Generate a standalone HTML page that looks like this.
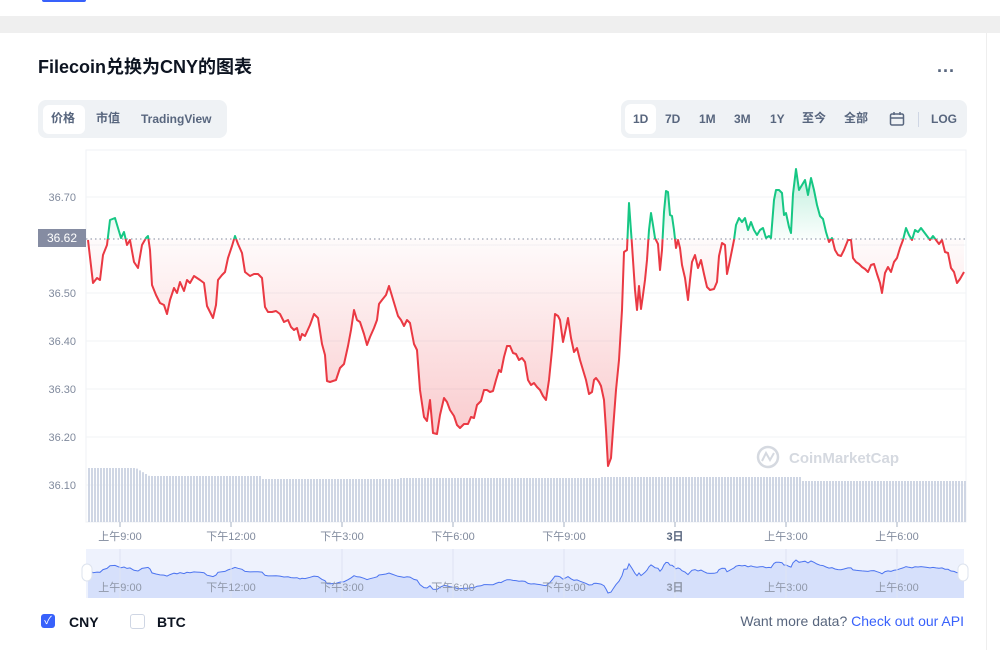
<!DOCTYPE html>
<html><head><meta charset="utf-8"><style>
body{margin:0;width:1000px;height:650px;background:#fff;font-family:"Liberation Sans","Noto Sans CJK SC",sans-serif;position:relative;overflow:hidden}
.a{position:absolute}
.tab{position:absolute;font-size:12px;line-height:14px;font-weight:bold;color:#58667e}
</style></head><body>
<div class="a" style="left:42px;top:0;width:44px;height:2px;background:#3861fb;border-radius:0 0 3px 3px"></div>
<div class="a" style="left:0;top:16px;width:1000px;height:17px;background:#efefef"></div>
<div class="a" style="left:986px;top:33px;width:1px;height:617px;background:#eee"></div>
<div class="a" style="left:38px;top:53px;font-size:18px;font-weight:bold;color:#0d1421">Filecoin兑换为CNY的图表</div>
<div class="a" style="left:937px;top:56px;font-size:18px;font-weight:bold;color:#58667e;letter-spacing:1px">...</div>
<div class="a" style="left:38px;top:100px;width:189px;height:38px;background:#eff2f5;border-radius:8px"></div>
<div class="a" style="left:43px;top:105px;width:42px;height:29px;background:#fff;border-radius:6px"></div>
<div class="tab" style="left:51px;top:111px">价格</div>
<div class="tab" style="left:96px;top:111px">市值</div>
<div class="tab" style="left:141px;top:112px">TradingView</div>
<div class="a" style="left:621px;top:100px;width:346px;height:38px;background:#eff2f5;border-radius:8px"></div>
<div class="a" style="left:625px;top:104px;width:31px;height:30px;background:#fff;border-radius:6px"></div>
<div class="tab" style="left:633px;top:112px">1D</div>
<div class="tab" style="left:665px;top:112px">7D</div>
<div class="tab" style="left:699px;top:112px">1M</div>
<div class="tab" style="left:734px;top:112px">3M</div>
<div class="tab" style="left:770px;top:112px">1Y</div>
<div class="tab" style="left:802px;top:111px">至今</div>
<div class="tab" style="left:844px;top:111px">全部</div>
<svg class="a" style="left:889px;top:111px" width="16" height="16"><rect x="1.5" y="3" width="13" height="11" rx="1.5" fill="none" stroke="#58667e" stroke-width="1.5"/><line x1="1.5" y1="7" x2="14.5" y2="7" stroke="#58667e" stroke-width="1.5"/><line x1="5" y1="1" x2="5" y2="4" stroke="#58667e" stroke-width="1.5"/><line x1="11" y1="1" x2="11" y2="4" stroke="#58667e" stroke-width="1.5"/></svg>
<div class="a" style="left:918px;top:112px;width:1px;height:15px;background:#cfd6e4"></div>
<div class="tab" style="left:931px;top:112px">LOG</div>

<svg class="a" style="left:0;top:0" width="1000" height="650" id="ch">
<defs>
<linearGradient id="gg" x1="0" y1="165" x2="0" y2="239" gradientUnits="userSpaceOnUse"><stop offset="0" stop-color="#16c784" stop-opacity="0.3"/><stop offset="1" stop-color="#16c784" stop-opacity="0.02"/></linearGradient>
<linearGradient id="rg" x1="0" y1="239" x2="0" y2="466" gradientUnits="userSpaceOnUse"><stop offset="0" stop-color="#ea3943" stop-opacity="0.02"/><stop offset="1" stop-color="#ea3943" stop-opacity="0.3"/></linearGradient>
<clipPath id="up"><rect x="0" y="0" width="1000" height="239"/></clipPath>
<clipPath id="dn"><rect x="0" y="239" width="1000" height="400"/></clipPath>
</defs>
<rect x="86" y="150" width="880" height="372" fill="none" stroke="#eff2f5"/>
<g stroke="#f1f3f6" stroke-width="1">
<line x1="86" x2="966" y1="197" y2="197"/><line x1="86" x2="966" y1="245" y2="245"/><line x1="86" x2="966" y1="293" y2="293"/><line x1="86" x2="966" y1="341" y2="341"/><line x1="86" x2="966" y1="389" y2="389"/><line x1="86" x2="966" y1="437" y2="437"/><line x1="86" x2="966" y1="485" y2="485"/>
</g>
<g id="bars" fill="#cfd6e4"></g>
<g font-size="11" fill="#808a9d" text-anchor="end">
<text x="76" y="201">36.70</text><text x="76" y="297">36.50</text><text x="76" y="345">36.40</text><text x="76" y="393">36.30</text><text x="76" y="441">36.20</text><text x="76" y="489">36.10</text>
</g>
<text x="789" y="463" font-size="15" font-weight="bold" fill="#d5d9e0">CoinMarketCap</text>
<circle cx="768" cy="457" r="10" fill="none" stroke="#d5d9e0" stroke-width="2.5"/>
<path d="M762,461 L766,453 L770,460 L774,453" fill="none" stroke="#d5d9e0" stroke-width="2"/>
<path id="fu" clip-path="url(#up)" fill="url(#gg)"/>
<path id="fd" clip-path="url(#dn)" fill="url(#rg)"/>
<polyline id="lu" clip-path="url(#up)" fill="none" stroke="#16c784" stroke-width="2" stroke-linejoin="round"/>
<polyline id="ld" clip-path="url(#dn)" fill="none" stroke="#ea3943" stroke-width="2" stroke-linejoin="round"/>
<line x1="86" x2="966" y1="239" y2="239" stroke="#808a9d" stroke-dasharray="1.5,3"/>
<rect x="38" y="229" width="48" height="18" fill="#858ca2"/>
<text x="62" y="242" font-size="12" fill="#fff" text-anchor="middle">36.62</text>
<g stroke="#a6b0c3"><line x1="120" x2="120" y1="522" y2="527"/><line x1="231" x2="231" y1="522" y2="527"/><line x1="342" x2="342" y1="522" y2="527"/><line x1="453" x2="453" y1="522" y2="527"/><line x1="564" x2="564" y1="522" y2="527"/><line x1="675" x2="675" y1="522" y2="527"/><line x1="786" x2="786" y1="522" y2="527"/><line x1="897" x2="897" y1="522" y2="527"/></g>
<g font-size="11" fill="#808a9d" text-anchor="middle">
<text x="120" y="540">上午9:00</text><text x="231" y="540">下午12:00</text><text x="342" y="540">下午3:00</text><text x="453" y="540">下午6:00</text><text x="564" y="540">下午9:00</text><text x="675" y="540" font-weight="bold" fill="#58667e">3日</text><text x="786" y="540">上午3:00</text><text x="897" y="540">上午6:00</text>
</g>
<rect x="86" y="549" width="878" height="49" fill="#eef2fd"/>
<path id="nf" fill="#d6e0fb"/>
<polyline id="nl" fill="none" stroke="#4c74f0" stroke-width="1"/>
<g stroke="#dde3f3"><line x1="120" x2="120" y1="549" y2="598"/><line x1="231" x2="231" y1="549" y2="598"/><line x1="342" x2="342" y1="549" y2="598"/><line x1="453" x2="453" y1="549" y2="598"/><line x1="564" x2="564" y1="549" y2="598"/><line x1="675" x2="675" y1="549" y2="598"/><line x1="786" x2="786" y1="549" y2="598"/><line x1="897" x2="897" y1="549" y2="598"/></g>
<g font-size="11" fill="#8f97a8" text-anchor="middle">
<text x="120" y="591">上午9:00</text><text x="231" y="591">下午12:00</text><text x="342" y="591">下午3:00</text><text x="453" y="591">下午6:00</text><text x="564" y="591">下午9:00</text><text x="675" y="591" font-weight="bold">3日</text><text x="786" y="591">上午3:00</text><text x="897" y="591">上午6:00</text>
</g>
<rect x="82" y="564" width="10" height="17" rx="5" fill="#fff" stroke="#dde3ee"/>
<rect x="958" y="564" width="10" height="17" rx="5" fill="#fff" stroke="#dde3ee"/>
</svg>

<div class="a" style="left:41px;top:614px;width:14px;height:14px;background:#3861fb;border-radius:3px;color:#fff;font-size:11px;line-height:14px;text-align:center">✓</div>
<div class="a" style="left:69px;top:614px;font-size:14px;font-weight:bold;color:#0d1421">CNY</div>
<div class="a" style="left:130px;top:614px;width:13px;height:13px;border:1px solid #cfd6e4;border-radius:3px"></div>
<div class="a" style="left:157px;top:614px;font-size:14px;font-weight:bold;color:#0d1421">BTC</div>
<div class="a" style="right:36px;top:613px;font-size:14px;color:#58667e">Want more data? <span style="color:#3861fb">Check out our API</span></div>

<script>
var P=[[88,240],[93,283],[97,278],[100,280],[103,255],[107,245],[110,220],[115,218],[118,228],[121,238],[124,232],[127,245],[130,240],[134,262],[138,268],[142,245],[146,238],[148,236],[150,250],[152,285],[156,295],[160,303],[164,305],[167,314],[170,300],[174,288],[177,293],[180,282],[184,291],[187,280],[190,283],[194,276],[197,278],[200,280],[204,283],[207,306],[210,312],[213,318],[216,305],[218,280],[222,275],[225,272],[228,258],[232,246],[235,236],[238,244],[242,253],[245,272],[250,276],[254,274],[258,274],[262,278],[265,307],[268,312],[272,312],[276,311],[280,314],[284,322],[288,320],[291,327],[294,330],[297,328],[300,340],[302,334],[305,336],[310,325],[314,314],[318,318],[322,344],[325,355],[327,381],[330,382],[336,380],[340,368],[344,364],[348,346],[351,330],[354,310],[357,320],[360,322],[364,334],[367,345],[370,337],[374,328],[377,320],[379,304],[382,300],[386,295],[389,286],[392,296],[395,306],[398,316],[401,320],[404,326],[407,320],[410,323],[414,344],[417,350],[420,390],[424,417],[427,421],[430,400],[433,433],[437,434],[440,415],[444,398],[447,402],[450,410],[454,416],[457,425],[460,428],[464,424],[468,424],[471,417],[474,418],[477,405],[481,401],[484,390],[487,390],[490,392],[493,391],[496,380],[499,370],[501,372],[504,357],[507,346],[510,346],[513,353],[516,354],[519,360],[522,358],[525,362],[528,380],[531,385],[534,383],[537,387],[540,390],[543,396],[546,400],[549,380],[552,350],[555,314],[558,316],[560,320],[563,342],[566,328],[568,318],[571,338],[574,352],[577,348],[580,360],[583,370],[586,380],[589,394],[592,392],[594,380],[596,378],[599,382],[601,386],[604,400],[606,430],[608,466],[611,458],[613,430],[616,390],[619,360],[622,310],[624,252],[627,250],[629,203],[632,245],[635,290],[637,310],[639,286],[641,309],[643,295],[645,280],[647,260],[649,230],[651,213],[653,225],[655,238],[658,244],[660,270],[662,250],[664,212],[666,191],[668,192],[670,215],[672,216],[674,230],[676,248],[678,240],[680,248],[682,265],[685,278],[688,300],[690,280],[692,262],[695,255],[698,268],[701,260],[704,274],[707,287],[710,290],[714,289],[717,282],[719,256],[722,243],[725,245],[727,274],[729,265],[732,250],[734,240],[736,225],[739,218],[742,222],[745,218],[748,230],[751,222],[754,230],[757,235],[760,230],[763,228],[766,238],[769,236],[771,238],[774,200],[776,190],[779,190],[782,193],[784,215],[786,213],[789,227],[791,233],[793,194],[796,169],[799,190],[802,185],[805,180],[808,195],[811,178],[814,190],[817,205],[820,216],[823,219],[826,232],[829,242],[832,238],[835,250],[838,255],[841,256],[844,250],[848,240],[851,240],[853,258],[856,262],[859,264],[862,267],[865,269],[868,272],[871,265],[874,264],[877,274],[880,283],[882,293],[885,273],[888,267],[891,272],[894,262],[897,258],[900,248],[903,240],[906,228],[909,235],[912,240],[915,230],[918,232],[921,228],[924,232],[927,236],[930,240],[933,236],[936,240],[939,244],[942,240],[945,252],[948,253],[951,268],[954,272],[957,283],[960,279],[964,272]];
var s=P.map(function(p){return p.join(',')}).join(' ');
document.getElementById('lu').setAttribute('points',s);
document.getElementById('ld').setAttribute('points',s);
var f='M88,239 L'+P.map(function(p){return p.join(',')}).join(' L')+' L964,239 Z';
document.getElementById('fu').setAttribute('d',f);
document.getElementById('fd').setAttribute('d',f);
var N=P.map(function(p){return [p[0],560+(p[1]-169)*33/297]});
var ns=N.map(function(p){return p[0]+','+p[1].toFixed(1)}).join(' ');
document.getElementById('nl').setAttribute('points',ns);
document.getElementById('nf').setAttribute('d','M88,598 L'+ns.replace(/ /g,' L')+' L964,598 Z');
var g=document.getElementById('bars'),h='';
for(var x=88;x<966;x+=3){var t;
if(x<135)t=468;else if(x<150)t=468+(x-135)*0.6;else if(x<260)t=476;else if(x<400)t=479;else if(x<600)t=478;else if(x<800)t=477;else t=481;
h+='<rect x="'+x+'" y="'+t+'" width="2" height="'+(522-t)+'"/>';}
g.innerHTML=h;
</script>
</body></html>
